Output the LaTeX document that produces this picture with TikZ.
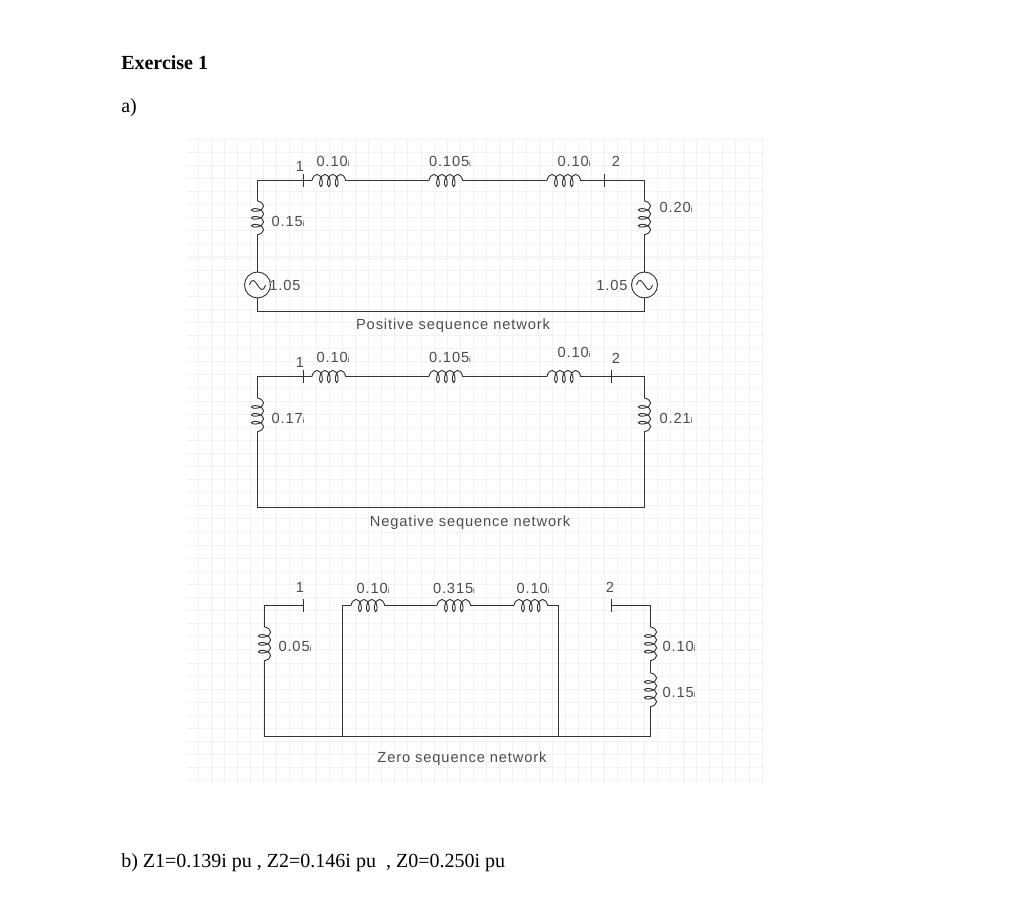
\documentclass[tikz,border=0pt]{standalone}
\usepackage{fontspec}
\setmainfont{Liberation Serif}
\newfontfamily\cadfont[LetterSpace=6]{Liberation Sans}
\usetikzlibrary{decorations.pathmorphing}
\definecolor{wirecol}{gray}{0.2}
\definecolor{cadtext}{gray}{0.3}
\definecolor{gridcol}{gray}{0.95}
\newcommand{\iu}{{\fontsize{6}{6}\selectfont i}}
\tikzset{
  wire/.style={draw=wirecol,line width=0.7pt},
  gridln/.style={draw=gridcol,line width=0.7pt},
  coil/.style={wire,decorate,decoration={coil,aspect=0.5,amplitude=4.6pt,segment length=5.9pt}},
  brk/.style={draw=wirecol,line width=0.7pt,minimum width=0pt,minimum height=9.5pt,inner sep=0pt,outer sep=0pt},
  src/.style={circle,draw=wirecol,line width=0.7pt,minimum size=19.5pt,inner sep=0pt,outer sep=0pt,
    path picture={\draw[wirecol,line width=0.7pt] ([xshift=-6pt]path picture bounding box.center)
      .. controls ++(2pt,6pt) and ++(-2pt,3pt) .. (path picture bounding box.center)
      .. controls ++(2pt,-3pt) and ++(-2pt,-6pt) .. ([xshift=6pt]path picture bounding box.center);}},
  val/.style={text=cadtext,font=\cadfont\fontsize{11}{11}\selectfont,inner sep=0pt},
  ttl/.style={text=cadtext,font=\cadfont\fontsize{11}{11}\selectfont,inner sep=0pt},
  doc/.style={font=\fontsize{15}{15}\selectfont,anchor=base west,inner sep=0pt}
}
\begin{document}
\begin{tikzpicture}[x=0.75pt,y=-0.75pt]
  \useasboundingbox (0,0) rectangle (1024,898);
  % grid
  \foreach \i in {0,...,43} \draw[gridln] ({198+13.12*\i},138) -- ({198+13.12*\i},785);
  \foreach \i in {0,...,49} \draw[gridln] (187,{139+13.1*\i}) -- (765,{139+13.1*\i});
  \draw[draw={rgb,255:red,247;green,246;blue,236},line width=0.7pt] (187,258) -- (765,258);

  \node[doc] (head) at (121,70) {\textbf{Exercise 1}};
  \node[doc] (parta) at (121,113) {a)};
  \node[doc] (partb) at (121,867) {b) Z1=0.139i pu , Z2=0.146i pu \ , Z0=0.250i pu};

  % positive sequence
  \coordinate (p_tl) at (257.5,180.5);
  \coordinate (p_tr) at (644.5,180.5);
  \coordinate (p_bl) at (257.5,311.5);
  \coordinate (p_br) at (644.5,311.5);
  \node[brk] (p_m1) at (303.5,180.5) {};
  \node[brk] (p_m2) at (604.5,180.5) {};
  \node[src] (p_s1) at (257.5,285) {};
  \node[src] (p_s2) at (644.5,285) {};
  \coordinate (p_c1a) at (312,180.5);  \coordinate (p_c1b) at (347,180.5);
  \coordinate (p_c2a) at (429,180.5);  \coordinate (p_c2b) at (465,180.5);
  \coordinate (p_c3a) at (547,180.5);  \coordinate (p_c3b) at (583,180.5);
  \coordinate (p_c4a) at (257.5,201);  \coordinate (p_c4b) at (257.5,235);
  \coordinate (p_c5a) at (644.5,201);  \coordinate (p_c5b) at (644.5,235);
  \draw[wire] (p_s1) -- (p_c4b) (p_c4a) -- (p_tl) -- (p_m1) -- (p_c1a) (p_c1b) -- (p_c2a)
    (p_c2b) -- (p_c3a) (p_c3b) -- (p_m2) -- (p_tr) -- (p_c5a) (p_c5b) -- (p_s2) -- (p_br) -- (p_bl) -- (p_s1);
  \draw[coil] (p_c1a) -- (p_c1b);
  \draw[coil] (p_c2a) -- (p_c2b);
  \draw[coil] (p_c3a) -- (p_c3b);
  \draw[coil] (p_c4a) -- (p_c4b);
  \draw[coil] (p_c5a) -- (p_c5b);
  \node[val] (p_l1) at (333,161) {0.10\iu};
  \node[val] (p_l2) at (450,161) {0.105\iu};
  \node[val] (p_l3) at (574,161) {0.10\iu};
  \node[val] (p_n1) at (300,166) {1};
  \node[val] (p_n2) at (616,161) {2};
  \node[val] (p_l4) at (288,221) {0.15\iu};
  \node[val] (p_l5) at (676,207) {0.20\iu};
  \node[val] (p_e1) at (285,285) {1.05};
  \node[val] (p_e2) at (612,285) {1.05};
  \node[ttl] (p_t) at (453,326) {Positive sequence network};

  % negative sequence
  \coordinate (n_tl) at (257.5,376.5);
  \coordinate (n_tr) at (644.5,376.5);
  \coordinate (n_bl) at (257.5,507.5);
  \coordinate (n_br) at (644.5,507.5);
  \node[brk] (n_m1) at (303.5,376.5) {};
  \node[brk] (n_m2) at (611.5,376.5) {};
  \coordinate (n_c1a) at (312,376.5);  \coordinate (n_c1b) at (347,376.5);
  \coordinate (n_c2a) at (429,376.5);  \coordinate (n_c2b) at (465,376.5);
  \coordinate (n_c3a) at (547,376.5);  \coordinate (n_c3b) at (583,376.5);
  \coordinate (n_c4a) at (257.5,398);  \coordinate (n_c4b) at (257.5,432);
  \coordinate (n_c5a) at (644.5,398);  \coordinate (n_c5b) at (644.5,432);
  \draw[wire] (n_c4b) -- (n_bl) -- (n_br) -- (n_c5b) (n_c5a) -- (n_tr) -- (n_m2) -- (n_c3b)
    (n_c3a) -- (n_c2b) (n_c2a) -- (n_c1b) (n_c1a) -- (n_m1) -- (n_tl) -- (n_c4a);
  \draw[coil] (n_c1a) -- (n_c1b);
  \draw[coil] (n_c2a) -- (n_c2b);
  \draw[coil] (n_c3a) -- (n_c3b);
  \draw[coil] (n_c4a) -- (n_c4b);
  \draw[coil] (n_c5a) -- (n_c5b);
  \node[val] (n_l1) at (333,357) {0.10\iu};
  \node[val] (n_l2) at (450,357) {0.105\iu};
  \node[val] (n_l3) at (574,352) {0.10\iu};
  \node[val] (n_n1) at (300,362) {1};
  \node[val] (n_n2) at (616,358) {2};
  \node[val] (n_l4) at (288,418) {0.17\iu};
  \node[val] (n_l5) at (676,418) {0.21\iu};
  \node[ttl] (n_t) at (470,523) {Negative sequence network};

  % zero sequence
  \coordinate (z_tl) at (264.5,605.5);
  \coordinate (z_tr) at (650.5,605.5);
  \coordinate (z_bl) at (264.5,736.5);
  \coordinate (z_br) at (650.5,736.5);
  \coordinate (z_il) at (342.5,605.5);
  \coordinate (z_ir) at (558.5,605.5);
  \coordinate (z_jl) at (342.5,736.5);
  \coordinate (z_jr) at (558.5,736.5);
  \node[brk] (z_m1) at (303.5,605.5) {};
  \node[brk] (z_m2) at (611.5,605.5) {};
  \coordinate (z_c1a) at (351,605.5);  \coordinate (z_c1b) at (386,605.5);
  \coordinate (z_c2a) at (437,605.5);  \coordinate (z_c2b) at (471,605.5);
  \coordinate (z_c3a) at (514,605.5);  \coordinate (z_c3b) at (549,605.5);
  \coordinate (z_c4a) at (264.5,627);  \coordinate (z_c4b) at (264.5,661);
  \coordinate (z_c5a) at (650.5,627);  \coordinate (z_c5b) at (650.5,661);
  \coordinate (z_c6a) at (650.5,673);  \coordinate (z_c6b) at (650.5,707);
  \draw[wire] (z_m1) -- (z_tl) -- (z_c4a) (z_c4b) -- (z_bl) -- (z_br) -- (z_c6b)
    (z_c6a) -- (z_c5b) (z_c5a) -- (z_tr) -- (z_m2);
  \draw[wire] (z_jl) -- (z_il) -- (z_c1a) (z_c1b) -- (z_c2a) (z_c2b) -- (z_c3a) (z_c3b) -- (z_ir) -- (z_jr);
  \draw[coil] (z_c1a) -- (z_c1b);
  \draw[coil] (z_c2a) -- (z_c2b);
  \draw[coil] (z_c3a) -- (z_c3b);
  \draw[coil] (z_c4a) -- (z_c4b);
  \draw[coil] (z_c5a) -- (z_c5b);
  \draw[coil] (z_c6a) -- (z_c6b);
  \node[val] (z_l1) at (373,588) {0.10\iu};
  \node[val] (z_l2) at (454,588) {0.315\iu};
  \node[val] (z_l3) at (533,588) {0.10\iu};
  \node[val] (z_n1) at (300,587) {1};
  \node[val] (z_n2) at (610,587) {2};
  \node[val] (z_l4) at (295,646) {0.05\iu};
  \node[val] (z_l5) at (679,646) {0.10\iu};
  \node[val] (z_l6) at (679,692) {0.15\iu};
  \node[ttl] (z_t) at (462,759) {Zero sequence network};
\end{tikzpicture}
\end{document}
